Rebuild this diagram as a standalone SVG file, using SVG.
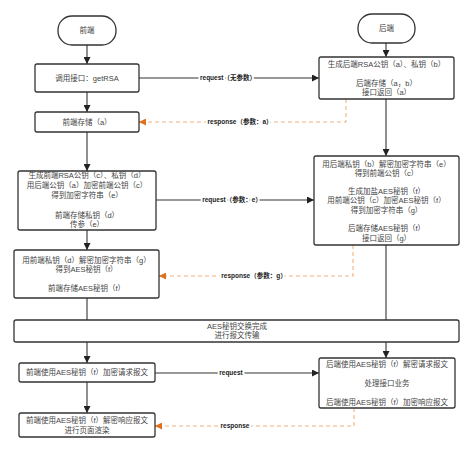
<svg xmlns="http://www.w3.org/2000/svg" width="474" height="452" viewBox="0 0 474 452">
<style>
.box{fill:#fff;stroke:#333;stroke-width:1.3}
.t{font-family:"Liberation Sans","Noto Sans CJK SC",sans-serif;font-size:7.5px;fill:#444;text-anchor:middle}
.lbl{font-family:"Liberation Sans","Noto Sans CJK SC",sans-serif;font-size:6.5px;font-weight:bold;fill:#222;text-anchor:middle;paint-order:stroke;stroke:#fff;stroke-width:4px;stroke-linejoin:round}
.ln{fill:none;stroke:#333;stroke-width:1.1}
.dash{fill:none;stroke:#f2b27e;stroke-width:1.1;stroke-dasharray:4 3}
</style>
<defs>
<marker id="ab" viewBox="0 0 10 10" refX="10" refY="5" markerWidth="7" markerHeight="7" markerUnits="userSpaceOnUse" orient="auto"><path d="M0,0 L10,5 L0,10 Z" fill="#222"/></marker>
<marker id="ao" viewBox="0 0 10 10" refX="10" refY="5" markerWidth="7" markerHeight="7" markerUnits="userSpaceOnUse" orient="auto"><path d="M0,0 L10,5 L0,10 Z" fill="#e0701c"/></marker>
</defs>
<rect width="474" height="452" fill="#fff"/>
<g id="connectors">
<line class="ln" x1="87" y1="45" x2="87" y2="64" marker-end="url(#ab)"/>
<line class="ln" x1="87" y1="92" x2="87" y2="112" marker-end="url(#ab)"/>
<line class="ln" x1="87" y1="132" x2="87" y2="171" marker-end="url(#ab)"/>
<line class="ln" x1="87" y1="230" x2="87" y2="250" marker-end="url(#ab)"/>
<line class="ln" x1="87" y1="298" x2="87" y2="320"/>
<line class="ln" x1="87" y1="342" x2="87" y2="363" marker-end="url(#ab)"/>
<line class="ln" x1="87" y1="382" x2="87" y2="413" marker-end="url(#ab)"/>
<line class="ln" x1="386" y1="43" x2="386" y2="57" marker-end="url(#ab)"/>
<line class="ln" x1="386" y1="99" x2="386" y2="156" marker-end="url(#ab)"/>
<line class="ln" x1="386" y1="245" x2="386" y2="320"/>
<line class="ln" x1="386" y1="342" x2="386" y2="358" marker-end="url(#ab)"/>
<line class="ln" x1="139" y1="78" x2="319" y2="78" marker-end="url(#ab)"/>
<polyline class="dash" points="346,99 346,122 140,122"/>
<line x1="146" y1="122" x2="139" y2="122" stroke="#e0701c" stroke-width="1" marker-end="url(#ao)"/>
<line class="ln" x1="156" y1="200" x2="314" y2="200" marker-end="url(#ab)"/>
<polyline class="dash" points="353,245 353,276 160,276"/>
<line x1="166" y1="276" x2="159" y2="276" stroke="#e0701c" stroke-width="1" marker-end="url(#ao)"/>
<line class="ln" x1="155" y1="373" x2="319" y2="373" marker-end="url(#ab)"/>
<polyline class="dash" points="354,408 354,426 156,426"/>
<line x1="162" y1="426" x2="155" y2="426" stroke="#e0701c" stroke-width="1" marker-end="url(#ao)"/>
<text class="lbl" x="228" y="80">request（无参数）</text>
<text class="lbl" x="240" y="124">response（参数：a）</text>
<text class="lbl" x="232" y="202">request（参数：e）</text>
<text class="lbl" x="254" y="278">response（参数：g）</text>
<text class="lbl" x="231" y="375">request</text>
<text class="lbl" x="235" y="428">response</text>
</g>
<g id="front-start"><rect class="box" x="58" y="16" width="58" height="29" rx="14"/><text class="t" x="87" y="33">前端</text></g>
<g id="front-call"><rect class="box" x="35" y="64" width="104" height="28" rx="2"/><text class="t" x="87" y="80.5">调用接口：getRSA</text></g>
<g id="front-store-a"><rect class="box" x="35" y="112" width="104" height="20" rx="2"/><text class="t" x="87" y="124.7">前端存储（a）</text></g>
<g id="front-gen"><rect class="box" x="18" y="171" width="138" height="59" rx="2"/>
<text class="t" x="87" y="178">生成前端RSA公钥（c）、私钥（d）</text>
<text class="t" x="87" y="188">用后端公钥（a）加密前端公钥（c）</text>
<text class="t" x="87" y="198">得到加密字符串（e）</text>
<text class="t" x="87" y="217.5">前端存储私钥（d）</text>
<text class="t" x="87" y="227">传参（e）</text></g>
<g id="front-decrypt"><rect class="box" x="14" y="250" width="145" height="48" rx="2"/>
<text class="t" x="86.5" y="262.7">用前端私钥（d）解密加密字符串（g）</text>
<text class="t" x="86.5" y="272.2">得到AES秘钥（f）</text>
<text class="t" x="86.5" y="290.7">前端存储AES秘钥（f）</text></g>
<g id="exchange-done"><rect class="box" x="14" y="320" width="445" height="22" rx="2"/>
<text class="t" x="237" y="328.5">AES秘钥交换完成</text>
<text class="t" x="237" y="338">进行报文传输</text></g>
<g id="front-encrypt-req"><rect class="box" x="19" y="363" width="136" height="19" rx="2"/><text class="t" x="87" y="375">前端使用AES秘钥（f）加密请求报文</text></g>
<g id="front-decrypt-resp"><rect class="box" x="19" y="413" width="136" height="24" rx="2"/>
<text class="t" x="87" y="423.3">前端使用AES秘钥（f）解密响应报文</text>
<text class="t" x="87" y="433">进行页面渲染</text></g>
<g id="back-start"><rect class="box" x="358" y="14" width="57" height="29" rx="14"/><text class="t" x="386.5" y="31">后端</text></g>
<g id="back-gen"><rect class="box" x="319" y="57" width="135" height="42" rx="2"/>
<text class="t" x="386.5" y="66.7">生成后端RSA公钥（a）、私钥（b）</text>
<text class="t" x="386.5" y="85.5">后端存储（a，b）</text>
<text class="t" x="386.5" y="95">接口返回（a）</text></g>
<g id="back-decrypt"><rect class="box" x="314" y="156" width="145" height="89" rx="2"/>
<text class="t" x="386.5" y="166.5">用后端私钥（b）解密加密字符串（e）</text>
<text class="t" x="386.5" y="176">得到前端公钥（c）</text>
<text class="t" x="386.5" y="193.7">生成加盐AES秘钥（f）</text>
<text class="t" x="386.5" y="203.2">用前端公钥（c）加密AES秘钥（f）</text>
<text class="t" x="386.5" y="212.7">得到加密字符串（g）</text>
<text class="t" x="386.5" y="231.3">后端存储AES秘钥（f）</text>
<text class="t" x="386.5" y="240.8">接口返回（g）</text></g>
<g id="back-process"><rect class="box" x="319" y="358" width="136" height="50" rx="2"/>
<text class="t" x="387" y="366.7">后端使用AES秘钥（f）解密请求报文</text>
<text class="t" x="387" y="385.7">处理接口业务</text>
<text class="t" x="387" y="404.7">后端使用AES秘钥（f）加密响应报文</text></g>
</svg>
